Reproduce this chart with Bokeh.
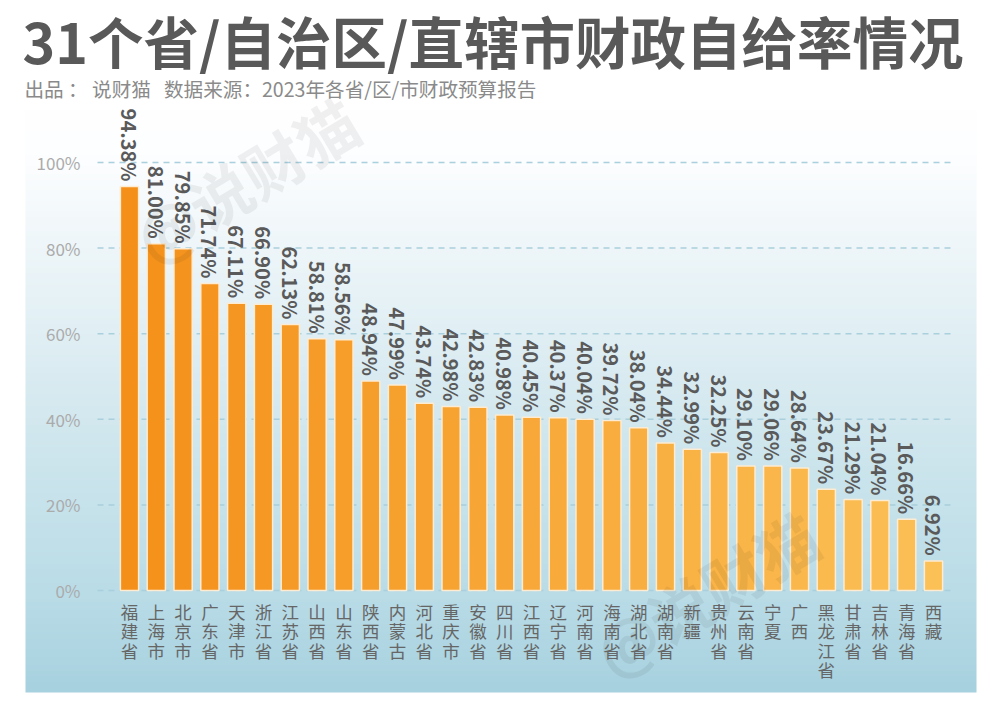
import math
import numpy as np
from bokeh.plotting import figure
from bokeh.models import Range1d
from bokeh.core.properties import value
from bokeh.embed import file_html
from bokeh.resources import INLINE

# ---- data -------------------------------------------------------------
provinces = ["福建省", "上海市", "北京市", "广东省", "天津市", "浙江省", "江苏省",
             "山西省", "山东省", "陕西省", "内蒙古", "河北省", "重庆市", "安徽省",
             "四川省", "江西省", "辽宁省", "河南省", "海南省", "湖北省", "湖南省",
             "新疆", "贵州省", "云南省", "宁夏", "广西", "黑龙江省", "甘肃省",
             "吉林省", "青海省", "西藏"]
ratios = [94.38, 81.00, 79.85, 71.74, 67.11, 66.90, 62.13, 58.81, 58.56, 48.94,
          47.99, 43.74, 42.98, 42.83, 40.98, 40.45, 40.37, 40.04, 39.72, 38.04,
          34.44, 32.99, 32.25, 29.10, 29.06, 28.64, 23.67, 21.29, 21.04, 16.66,
          6.92]
y_ticks = [0, 20, 40, 60, 80, 100]

title_text = "31个省/自治区/直辖市财政自给率情况"
subtitle_text = "出品 ： 说财猫\u00a0\u00a0\u00a0数据来源：2023年各省/区/市财政预算报告"
watermark = "@说财猫"

FONT = "Noto Sans CJK SC"
W, H = 1000, 704

# ---- scale set-up: bar slots of 26.8px, 4.28px per percentage point ----
X0, XS = 129.0, 26.8      # pixel centre of the first bar, pixels per slot
Y0, YS = 590.0, 4.28      # pixel row of 0%, pixels per percent


def dx(px):
    return (px - X0) / XS


def dy(py):
    return (Y0 - py) / YS


p = figure(width=W, height=H, output_backend="svg", toolbar_location=None,
           x_range=Range1d(dx(0), dx(W)), y_range=Range1d(dy(H), dy(0)),
           x_axis_location=None, y_axis_location=None, title=None,
           min_border=0, outline_line_color=None,
           background_fill_color="white", border_fill_color="white")
p.grid.visible = False

# ---- panel with vertical gradient (bottom -> top) ----------------------
panel_left, panel_right, panel_top, panel_bottom = 25, 976, 108, 692
stops = [(0.00, (167, 209, 223)), (0.16, (185, 220, 231)),
         (0.47, (211, 232, 239)), (0.76, (238, 246, 249)),
         (0.92, (253, 254, 255)), (1.00, (255, 255, 255))]
n_rows = 300
pos = np.linspace(0, 1, n_rows)
sp = [s[0] for s in stops]
chan = [np.interp(pos, sp, [s[1][k] for s in stops]).astype(np.uint32) for k in range(3)]
img = np.empty((n_rows, 2), dtype=np.uint32)
view = img.view(dtype=np.uint8).reshape((n_rows, 2, 4))
for k in range(3):
    view[:, :, k] = chan[k][:, None]
view[:, :, 3] = 255
p.image_rgba(image=[img], x=dx(panel_left), y=dy(panel_bottom),
             dw=(panel_right - panel_left) / XS, dh=(panel_bottom - panel_top) / YS)

# ---- dashed gridlines and tick labels ------------------------------------
n = len(provinces)
idx = list(range(n))
p.segment(x0=[dx(97)] * len(y_ticks), x1=[dx(950)] * len(y_ticks),
          y0=y_ticks, y1=y_ticks, line_color="#a9d0dc", line_width=1.5,
          line_dash="6 5")
p.text(x=[dx(80)] * len(y_ticks), y=y_ticks, text=[f"{t}%" for t in y_ticks],
       text_align="right", text_baseline="middle", text_color="#ababab",
       text_font=value(FONT), text_font_size="17px")

# ---- bars, coloured from deep to light orange left to right ------------
c_start = np.array([244, 144, 26])
c_end = np.array([251, 192, 86])
bar_colors = []
for i in idx:
    c = c_start + (c_end - c_start) * i / (n - 1)
    bar_colors.append("#%02x%02x%02x" % tuple(int(round(v)) for v in c))

p.vbar(x=idx, top=ratios, bottom=0, width=0.68, fill_color=bar_colors,
       line_color="#fdebd2", line_width=1.5)

# value labels, reading downwards, ending just above each bar
p.text(x=idx, y=ratios, text=[f"{v:.2f}%" for v in ratios], angle=-math.pi / 2,
       text_align="right", text_baseline="middle", y_offset=-5,
       text_color="#5a5a5a", text_font=value(FONT), text_font_style="bold",
       text_font_size="20px")

# watermarks
p.text(x=[dx(245), dx(705)], y=[dy(178), dy(592)], text=[watermark, watermark],
       angle=math.radians(31), text_align="center", text_baseline="middle",
       text_color="#000000", text_alpha=0.06, text_font=value(FONT),
       text_font_style="bold", text_font_size="62px")

# category labels, one character per line
p.text(x=idx, y=[0] * n, text=["\n".join(name) for name in provinces],
       text_align="center", text_baseline="top", y_offset=8,
       text_color="#666666", text_font=value(FONT), text_font_size="17.5px",
       text_line_height=0.78)

# ---- headings ------------------------------------------------------------
p.text(x=[dx(22)], y=[dy(39)], text=[title_text], text_align="left",
       text_baseline="alphabetic", text_color="#595959", text_font=value(FONT),
       text_font_style="bold", text_font_size="55.5px")
p.text(x=[dx(24)], y=[dy(73)], text=[subtitle_text], text_align="left",
       text_baseline="top", text_color="#8a8a8a", text_font=value(FONT),
       text_font_size="19.6px")

open("out.html", "w").write(file_html(p, INLINE))
